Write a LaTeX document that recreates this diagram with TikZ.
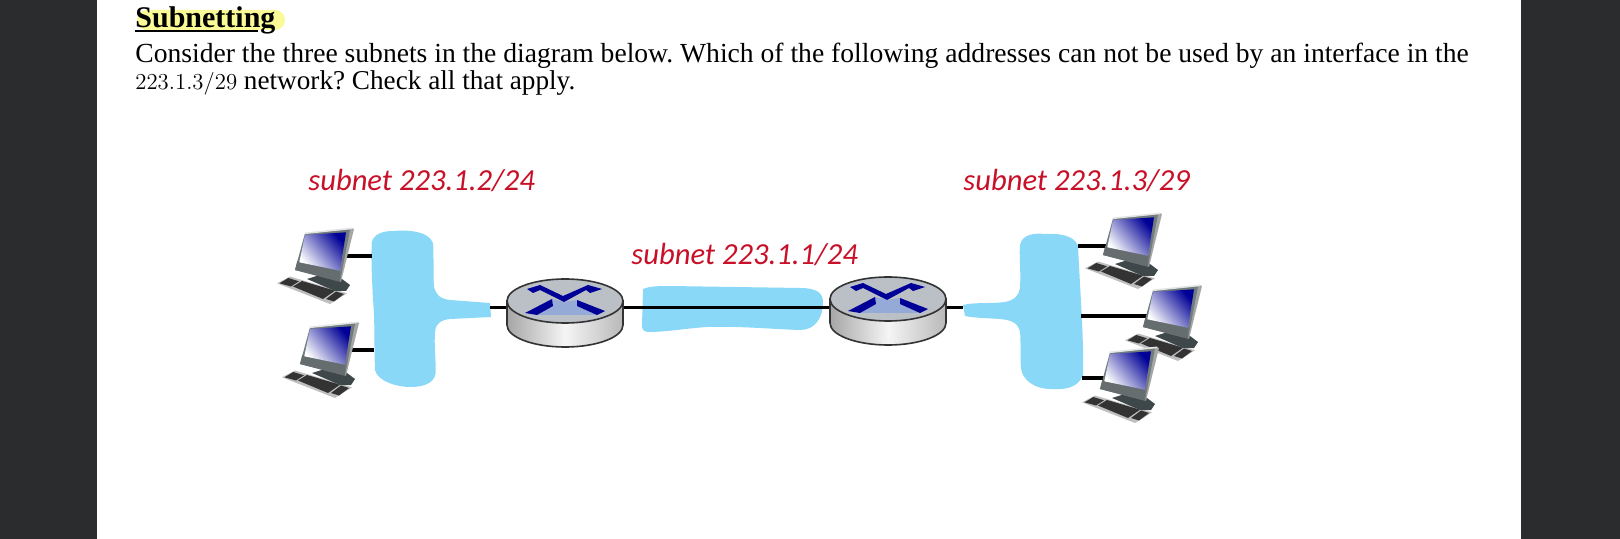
\documentclass[tikz,border=0pt]{standalone}
\usepackage{fontspec}
\setmainfont{Liberation Serif}
\newfontfamily\labelfont{Carlito}
\usepackage{xcolor}
\usepackage{tikz}
\usetikzlibrary{positioning, calc, shapes.geometric}
\definecolor{sidebar}{RGB}{43, 44, 46}
\definecolor{cloudblue}{RGB}{137, 216, 248}
\definecolor{labelred}{RGB}{200, 16, 40}
\definecolor{markyellow}{RGB}{250, 250, 150}
\definecolor{routerblue}{RGB}{0, 0, 150}
\definecolor{routerlight}{RGB}{150, 170, 215}
\definecolor{routertop}{RGB}{186, 192, 198}
\definecolor{pcframe}{RGB}{112, 124, 126}
\definecolor{pcdark}{RGB}{62, 72, 74}

\newcommand{\drawpc}[2]{
    \begin{scope}[shift={(#1,#2)}]
        % ban phim
        \fill[gray!50] (-68,27.3) -- (-55,20.5) -- (2,37.3) -- (-15,48) -- cycle;
        \fill[black!80] (-65.5,27.3) -- (-56.7,22) -- (-46,25.3) -- (-54,30.5) -- cycle;
        \fill[black!80] (-52,30.5) -- (-43,25) -- (-10,34.7) -- (-22,43) -- cycle;
        \fill[black!80] (-19,43) -- (-9,35.5) -- (-1,38) -- (-11,45.5) -- cycle;
        % chan man hinh
        \fill[pcdark] (-38,23) -- (-22,18) -- (-3,23) -- (5,29) -- (1,35) -- (-10,35) -- cycle;
        \fill[pcdark] (-30,14) -- (-14,18) -- (-8,26) -- (-24,23) -- cycle;
        % man hinh
        \fill[gray!70] (-40,-22.7) -- (7.3,-27.7) -- (9,-27) -- (-4,25.7) -- (-5,25.7) -- cycle;
        \fill[pcframe] (-40,-22.7) -- (5,-26.5) -- (-5,25.7) -- (-50,14) -- cycle;
        \fill[pcdark!80] (-47.7,5) -- (-5,15) -- (-5,25.7) -- (-50,14) -- cycle;
        \shade[top color=routerblue, bottom color=white, shading angle=-50] (-40,-21) -- (1,-23.7) -- (-5,14.7) -- (-45.7,6.3) -- cycle;
        \draw[white!80!gray, thick] (-40,-22.7) -- (7.3,-27.7);
    \end{scope}
}
\newcommand{\drawrouter}[3]{
    % #1 ten node, #2 #3 tam mat tren
    \shade[left color=gray!70, right color=gray!55, middle color=white!92!gray, draw=black!80, thick]
        (#2-58,#3) -- (#2-58,#3+24) arc[start angle=180, end angle=360, x radius=29pt, y radius=11pt]
        -- (#2+58,#3) -- cycle;
    \node[ellipse, draw=black!80, thick, fill=routertop, minimum width=58pt, minimum height=22pt, inner sep=0pt] (#1) at (#2,#3) {};
    \begin{scope}[shift={(#2,#3)}]
        \fill[routerlight] (-1,1) -- (12,-1) -- (12,5) -- (32,14) -- (-28,14) -- (-12,5) -- (-13,-2) -- cycle;
        \fill[routerblue] (-38,-12) -- (-25,-16) -- (-2,-5) -- (23,-16) -- (37,-12) -- (25,-8) -- (21,-11) -- (-1,1) -- (-25,-11) -- (-32,-8) -- cycle;
        \fill[routerblue] (-40,12) -- (-13,-2) -- (-12,5) -- (-28,14) -- cycle;
        \fill[routerblue] (12,-1) -- (40,10) -- (32,14) -- (12,5) -- cycle;
    \end{scope}
}

\begin{document}
\frenchspacing
\begin{tikzpicture}[x=0.5pt, y=-0.5pt]
    \useasboundingbox (0,0) rectangle (1620,539);
    \fill[sidebar] (0,0) rectangle (1620,539);
    \fill[white] (97,0) rectangle (1521,539);

    % tieu de va cau hoi
    \fill[markyellow, rounded corners=5pt] (137,10) rectangle (285,30);
    \node[anchor=base west, inner sep=0pt, font=\fontsize{15}{16}\selectfont\bfseries] (heading) at (135,28) {Subnetting};
    \draw[line width=0.8pt] (135,31) -- (258,31);
    \node[anchor=base west, inner sep=0pt, font=\fontsize{13.8}{16}\selectfont] (line1) at (135,63) {Consider the three subnets in the diagram below. Which of the following addresses can not be used by an interface in the};
    \node[anchor=base west, inner sep=0pt, font=\fontsize{13.6}{16}\selectfont] (line2) at (135,90) {{\fontfamily{lmr}\fontsize{11.4}{16}\selectfont\oldstylenums{223}.\oldstylenums{1}.\oldstylenums{3}/\oldstylenums{29}} network? Check all that apply.};

    % nhan cac subnet
    \node[anchor=base west, inner sep=0pt, text=labelred, font=\labelfont\itshape\fontsize{15.3}{16}\selectfont] (lblA) at (308,191) {subnet 223.1.2/24};
    \node[anchor=base west, inner sep=0pt, text=labelred, font=\labelfont\itshape\fontsize{15.3}{16}\selectfont] (lblB) at (631,265) {subnet 223.1.1/24};
    \node[anchor=base west, inner sep=0pt, text=labelred, font=\labelfont\itshape\fontsize{15.3}{16}\selectfont] (lblC) at (963,191) {subnet 223.1.3/29};

    % cac vung mau xanh
    \fill[cloudblue] (371.7,243) .. controls (373,234) and (383,231) .. (393,231)
        .. controls (405,230) and (428,230) .. (433,243)
        .. controls (434,255) and (433,275) .. (434,287)
        .. controls (437,297) and (442,299) .. (450,300)
        -- (490,303) -- (491,317)
        -- (450,319) .. controls (442,320) and (436,322) .. (435,332)
        .. controls (434,345) and (436,360) .. (435.7,373)
        .. controls (434,385) and (420,387) .. (410,387)
        .. controls (398,387) and (378,382) .. (375,370)
        .. controls (374,345) and (375,320) .. (373,300)
        .. controls (372,280) and (371,260) .. (371.7,243) -- cycle;
    \fill[cloudblue] (643,289) .. controls (650,286) and (660,286) .. (670,286)
        -- (800,288) .. controls (815,288) and (823,292) .. (823,302)
        .. controls (823,318) and (815,330) .. (800,330)
        .. controls (770,329) and (740,326) .. (707,327)
        .. controls (690,328) and (665,332) .. (650,332)
        .. controls (644,332) and (642,330) .. (642,326) -- cycle;
    \fill[cloudblue] (963,305) .. controls (975,302) and (990,304) .. (1005,302)
        .. controls (1015,300) and (1019,295) .. (1020,288)
        .. controls (1021,270) and (1019,255) .. (1020,245)
        .. controls (1022,234) and (1035,233) .. (1045,234)
        .. controls (1060,233) and (1075,236) .. (1078,246)
        .. controls (1080,290) and (1084,340) .. (1083,375)
        .. controls (1078,388) and (1065,390) .. (1050,389)
        .. controls (1035,389) and (1022,380) .. (1021,368)
        .. controls (1020,355) and (1021,340) .. (1020,332)
        .. controls (1018,322) and (1010,320) .. (1000,319)
        .. controls (985,318) and (975,318) .. (965,316) -- cycle;

    % cac diem noi
    \coordinate (pcA) at (345,256);
    \coordinate (cloudAtop) at (372,256);
    \coordinate (pcB) at (350,350);
    \coordinate (cloudAbot) at (374,350);
    \coordinate (cloudAend) at (490,307.5);
    \coordinate (routerAin) at (515,307.5);
    \coordinate (routerAout) at (615,307.5);
    \coordinate (routerBin) at (840,307.5);
    \coordinate (routerBout) at (935,307.5);
    \coordinate (cloudCend) at (963,307.5);
    \coordinate (cloudCtop) at (1078,246);
    \coordinate (pcC) at (1110,246);
    \coordinate (cloudCmid) at (1081,316);
    \coordinate (pcD) at (1150,316);
    \coordinate (cloudCbot) at (1082,378);
    \coordinate (pcE) at (1105,378);

    \draw[line width=1.9pt] (pcA) -- (cloudAtop);
    \draw[line width=1.9pt] (pcB) -- (cloudAbot);
    \draw[line width=1.9pt] (cloudAend) -- (routerAin);
    \draw[line width=1.9pt] (routerAout) -- (routerBin);
    \draw[line width=1.9pt] (routerBout) -- (cloudCend);
    \draw[line width=1.9pt] (cloudCtop) -- (pcC);
    \draw[line width=1.9pt] (cloudCmid) -- (pcD);
    \draw[line width=1.9pt] (cloudCbot) -- (pcE);

    \drawrouter{routerA}{565}{301}
    \drawrouter{routerB}{888}{299}

    \drawpc{345}{256}
    \drawpc{350}{350}
    \drawpc{1153}{241}
    \drawpc{1193}{313}
    \drawpc{1150}{375}
\end{tikzpicture}
\end{document}
